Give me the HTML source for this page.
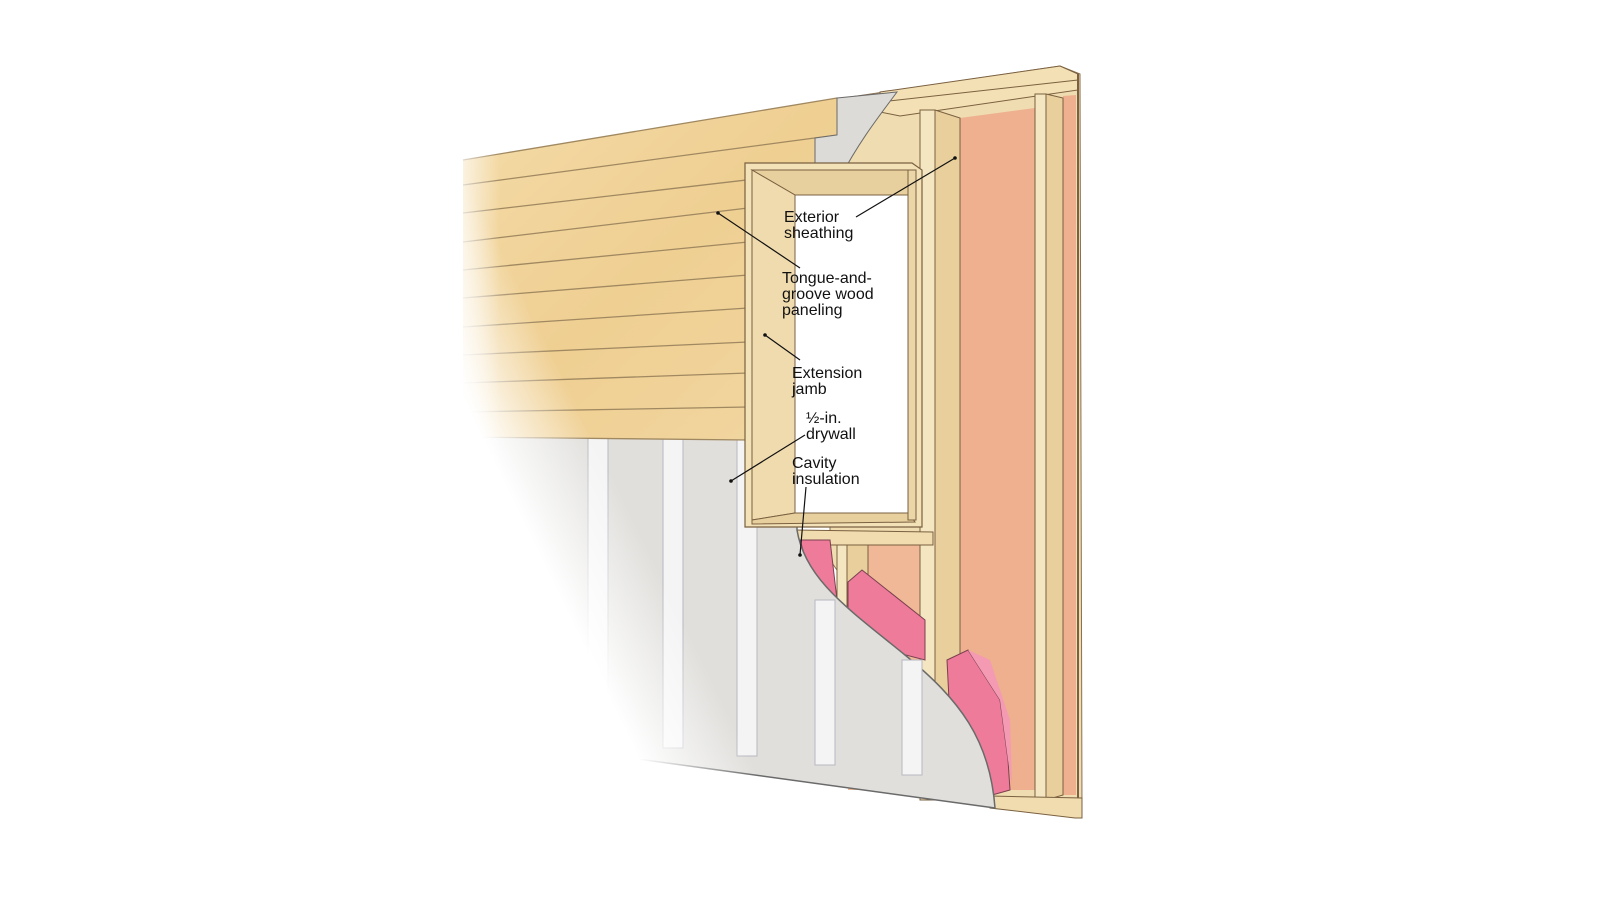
<!DOCTYPE html>
<html><head><meta charset="utf-8"><style>
html,body{margin:0;padding:0;background:#fff;}
svg{display:block;}
text{font-family:"Liberation Sans",sans-serif;font-size:16px;fill:#111;}
</style></head><body>
<svg width="1600" height="900" viewBox="0 0 1600 900" xmlns="http://www.w3.org/2000/svg">
<defs>
<linearGradient id="fade" x1="535" y1="547" x2="625" y2="503" gradientUnits="userSpaceOnUse">
<stop offset="0" stop-color="#000"/><stop offset="1" stop-color="#fff"/>
</linearGradient>
<linearGradient id="fade2" x1="463" y1="0" x2="500" y2="0" gradientUnits="userSpaceOnUse">
<stop offset="0" stop-color="#555"/><stop offset="1" stop-color="#fff"/>
</linearGradient>
<mask id="m"><rect width="1600" height="900" fill="url(#fade)"/></mask>
<mask id="m2"><rect width="1600" height="900" fill="url(#fade2)"/></mask>
<linearGradient id="wood" x1="0" y1="0" x2="1" y2="1">
<stop offset="0" stop-color="#f4dba8"/><stop offset="0.5" stop-color="#efcf92"/><stop offset="1" stop-color="#f2d7a2"/>
</linearGradient>
</defs>
<!-- sheathing / framing backdrop -->
<polygon points="830,100 1060,66 1080,74 1082,808 1000,806 830,560" fill="#efdcb0" stroke="#8a7050" stroke-width="1"/>
<!-- top plates -->
<polygon points="880,92 1060,66 1078,74 1078,90 900,116 880,112" fill="#f3e0b5" stroke="#7a6040" stroke-width="1"/>
<line x1="880" y1="102" x2="1078" y2="80" stroke="#7a6040"/>
<!-- cavities -->
<polygon points="960,118 1035,108 1035,790 960,790" fill="#eeb08e"/>
<polygon points="1063,96 1076,95 1076,795 1063,795" fill="#eeb08e"/>
<polygon points="848,545 930,545 930,790 848,790" fill="#f0b896"/>
<!-- studs -->
<rect x="920" y="110" width="15" height="690" fill="#f5e6c2" stroke="#7a6040" stroke-width="1"/>
<polygon points="935,110 960,118 960,795 935,800" fill="#e8cf9c" stroke="#7a6040" stroke-width="1"/>
<rect x="1035" y="94" width="11" height="706" fill="#f5e6c2" stroke="#7a6040" stroke-width="1"/>
<polygon points="1046,94 1063,98 1063,795 1046,800" fill="#e8cf9c" stroke="#7a6040" stroke-width="1"/>
<line x1="1078" y1="74" x2="1078" y2="808" stroke="#7a6040" stroke-width="2"/>
<!-- cripple stud + sill -->
<rect x="837" y="540" width="10" height="90" fill="#f5e6c2" stroke="#7a6040"/>
<polygon points="847,540 868,545 868,620 847,625" fill="#e8cf9c" stroke="#7a6040"/>
<polygon points="795,530 933,532 933,545 800,545" fill="#f0dcae" stroke="#7a6040"/>
<!-- bottom plate -->
<polygon points="990,796 1082,798 1082,818 1075,818 990,808" fill="#f0dcae" stroke="#7a6040"/>
<!-- pink batts -->
<polygon points="800,540 830,540 837,600 815,590" fill="#ee7b9a" stroke="#7a4050"/>
<polygon points="848,582 862,570 925,620 925,660 848,640" fill="#ee7b9a" stroke="#7a4050"/>
<polygon points="947,660 968,650 1000,700 1008,760 1010,790 985,797 950,720" fill="#ee7b9a" stroke="#7a4050"/>
<polygon points="968,650 990,660 1010,720 1012,785 1008,760 1000,700" fill="#f49ab2"/>
<!-- faded region group: siding + drywall -->
<g mask="url(#m)"><g mask="url(#m2)">
<!-- drywall -->
<path d="M 463,435 L 797,435 L 797,530 C 805,580 850,610 905,655 C 960,700 990,740 995,808 L 463,735 Z" fill="#e0dfdc" stroke="#6a6a6a" stroke-width="1.5"/>
<g fill="#f4f4f4" stroke="#b8b8c0" stroke-width="1">
<rect x="588" y="438" width="20" height="300"/>
<rect x="663" y="438" width="20" height="310"/>
<rect x="737" y="438" width="20" height="318"/>
<rect x="815" y="600" width="20" height="165"/>
<rect x="902" y="660" width="20" height="115"/>
</g>
<!-- siding -->
<polygon points="463,160 837,98 837,135 815,138 815,172 795,175 795,180 748,180 748,440 463,437" fill="url(#wood)"/>
<g stroke="#a08860" stroke-width="1.3" fill="none">
<line x1="463" y1="185" x2="837" y2="135"/>
<line x1="463" y1="213" x2="815" y2="172"/>
<line x1="463" y1="242" x2="748" y2="208"/>
<line x1="463" y1="270" x2="748" y2="242"/>
<line x1="463" y1="298" x2="748" y2="275"/>
<line x1="463" y1="327" x2="748" y2="308"/>
<line x1="463" y1="355" x2="748" y2="342"/>
<line x1="463" y1="383" x2="748" y2="373"/>
<line x1="463" y1="412" x2="748" y2="407"/>
<line x1="463" y1="437" x2="748" y2="440"/>
<line x1="463" y1="160" x2="837" y2="98"/>
</g>
</g></g>
<!-- drywall sliver top -->
<path d="M 837,98 L 897,92 C 880,115 860,140 840,178 L 815,178 L 815,138 L 837,135 Z" fill="#dcdbd8" stroke="#6a6a6a"/>
<!-- window frame -->
<polygon points="745,163 912,163 922,170 922,527 745,527" fill="#f3e1b8" stroke="#7a6040" stroke-width="1.2"/>
<polygon points="752,170 910,170 908,195 795,195" fill="#e8d09e" stroke="#7a6040"/>
<polygon points="752,170 795,195 795,513 752,520" fill="#f0dbae" stroke="#7a6040"/>
<rect x="795" y="195" width="113" height="318" fill="#fff" stroke="#7a6040"/>
<polygon points="752,520 795,513 908,513 915,522 752,524" fill="#e8d09e" stroke="#7a6040"/>
<rect x="908" y="170" width="8" height="350" fill="#ebd6a8" stroke="#7a6040"/>
<!-- leaders -->
<g stroke="#111" stroke-width="1.2">
<line x1="856" y1="217" x2="955" y2="158"/>
<line x1="800" y1="268" x2="718" y2="213"/>
<line x1="800" y1="360" x2="765" y2="335"/>
<line x1="805" y1="435" x2="731" y2="481"/>
<line x1="806" y1="487" x2="800" y2="555"/>
</g>
<g fill="#111">
<circle cx="955" cy="158" r="1.8"/><circle cx="718" cy="213" r="1.8"/>
<circle cx="765" cy="335" r="1.8"/><circle cx="731" cy="481" r="1.8"/>
<circle cx="800" cy="555" r="1.8"/>
</g>
<!-- labels -->
<text x="784" y="222">Exterior</text>
<text x="784" y="238">sheathing</text>
<text x="782" y="283">Tongue-and-</text>
<text x="782" y="299">groove wood</text>
<text x="782" y="315">paneling</text>
<text x="792" y="378">Extension</text>
<text x="792" y="394">jamb</text>
<text x="806" y="423">½-in.</text>
<text x="806" y="439">drywall</text>
<text x="792" y="468">Cavity</text>
<text x="792" y="484">insulation</text>
</svg>
</body></html>
